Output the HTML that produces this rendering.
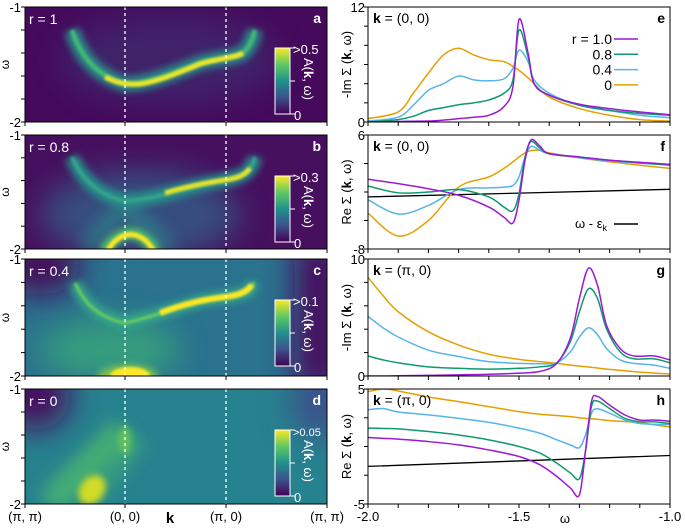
<!DOCTYPE html>
<html><head><meta charset="utf-8"><style>
html,body{margin:0;padding:0;background:#fff;}
svg{display:block;font-family:"Liberation Sans",sans-serif;}
</style></head><body>
<svg id="fig" width="685" height="530" viewBox="0 0 685 530" xmlns="http://www.w3.org/2000/svg">
<defs>
<filter id="b1" filterUnits="userSpaceOnUse" x="0" y="0" width="685" height="530"><feGaussianBlur stdDeviation="1.3"/></filter>
<filter id="b3" filterUnits="userSpaceOnUse" x="0" y="0" width="685" height="530"><feGaussianBlur stdDeviation="3.5"/></filter>
<filter id="b8" filterUnits="userSpaceOnUse" x="0" y="0" width="685" height="530"><feGaussianBlur stdDeviation="8"/></filter>
<filter id="b15" filterUnits="userSpaceOnUse" x="0" y="0" width="685" height="530"><feGaussianBlur stdDeviation="15"/></filter>
<linearGradient id="vir" x1="0" y1="1" x2="0" y2="0">
<stop offset="0" stop-color="#440154"/><stop offset="0.25" stop-color="#3b528b"/><stop offset="0.5" stop-color="#21908d"/><stop offset="0.75" stop-color="#5dc963"/><stop offset="1" stop-color="#fde725"/></linearGradient>
<clipPath id="ca"><rect x="25" y="7" width="302" height="115"/></clipPath>
<clipPath id="cb"><rect x="25" y="135" width="302" height="114"/></clipPath>
<clipPath id="cc"><rect x="25" y="259" width="302" height="117"/></clipPath>
<clipPath id="cd"><rect x="25" y="389" width="302" height="115"/></clipPath>
</defs>

<!-- Panel a -->
<g clip-path="url(#ca)">
<rect x="25" y="7" width="302" height="115" fill="#450a5c"/>
<ellipse cx="170" cy="60" rx="110" ry="45" fill="#3b3f7a" opacity="0.45" filter="url(#b15)"/>
<path d="M72,30 C80,55 95,75 125,84 C150,84 175,72 200,63 C215,58 235,58 243,53 C250,47 253,38 255,30" fill="none" stroke="#2a8c8a" stroke-width="16" opacity="0.9" filter="url(#b3)"/>
<path d="M72,30 C80,55 95,75 125,84 C150,84 175,72 200,63 C215,58 235,58 243,53 C250,47 253,38 255,30" fill="none" stroke="#3fb873" stroke-width="5" filter="url(#b1)"/>
<path d="M105,77 C115,82 125,85 140,84 C160,81 180,72 200,64 C215,59 235,58 243,53" fill="none" stroke="#f2e52a" stroke-width="5" filter="url(#b1)"/>
</g>
<!-- Panel b -->
<g clip-path="url(#cb)">
<rect x="25" y="135" width="302" height="114" fill="#46105f"/>
<ellipse cx="140" cy="215" rx="100" ry="45" fill="#31688e" opacity="0.7" filter="url(#b15)"/>
<path d="M85,249 L125,205 L170,249" fill="none" stroke="#2a8c8a" stroke-width="16" opacity="0.7" filter="url(#b8)"/>
<path d="M72,157 C82,180 100,196 125,201 C150,200 180,190 205,184 C225,180 240,178 247,172 C252,167 254,162 255,157" fill="none" stroke="#27908a" stroke-width="15" opacity="0.9" filter="url(#b3)"/>
<path d="M72,157 C82,180 100,196 125,201 C150,200 180,190 205,184 C225,180 240,178 247,172 C252,167 254,162 255,157" fill="none" stroke="#35a48a" stroke-width="4" filter="url(#b1)"/>
<path d="M165,193 C185,187 205,183 225,180 C240,178 246,174 250,168" fill="none" stroke="#e8e32a" stroke-width="5" filter="url(#b1)"/>
<path d="M104,252 C112,238 125,232 135,234 C145,237 150,243 156,252" fill="none" stroke="#4fc06a" stroke-width="12" filter="url(#b3)"/>
<path d="M108,250 C115,238 125,233 135,235 C145,238 150,244 154,252" fill="none" stroke="#fde725" stroke-width="5" filter="url(#b1)"/>
</g>
<!-- Panel c -->
<g clip-path="url(#cc)">
<rect x="25" y="259" width="302" height="117" fill="#2a728e"/>
<ellipse cx="40" cy="265" rx="40" ry="30" fill="#44085a" filter="url(#b15)"/>
<rect x="295" y="240" width="50" height="150" fill="#46105f" filter="url(#b15)"/>
<ellipse cx="110" cy="350" rx="70" ry="30" fill="#3bb077" opacity="0.7" filter="url(#b15)"/>
<path d="M75,283 C85,305 100,318 125,323 C150,318 180,306 205,300 C225,297 240,295 247,292 C251,288 253,285 254,282" fill="none" stroke="#35a48a" stroke-width="14" opacity="0.9" filter="url(#b3)"/>
<path d="M75,283 C85,305 100,318 125,323 C150,318 180,306 205,300 C225,297 240,295 247,292 C251,288 253,285 254,282" fill="none" stroke="#6ccd5a" stroke-width="3" filter="url(#b1)"/>
<path d="M160,313 C180,305 205,299 225,297 C240,295 246,292 252,285" fill="none" stroke="#fde725" stroke-width="6" filter="url(#b1)"/>
<ellipse cx="128" cy="377" rx="30" ry="12" fill="#a0da39" opacity="0.7" filter="url(#b3)"/>
<ellipse cx="130" cy="376" rx="20" ry="9" fill="#fde725" filter="url(#b1)"/>
</g>
<!-- Panel d -->
<g clip-path="url(#cd)">
<rect x="25" y="389" width="302" height="115" fill="#26828e"/>
<ellipse cx="35" cy="395" rx="35" ry="35" fill="#46105f" filter="url(#b15)"/>
<ellipse cx="320" cy="400" rx="30" ry="40" fill="#3b528b" filter="url(#b15)"/>
<path d="M50,504 L125,430" stroke="#54c567" stroke-width="30" opacity="0.65" filter="url(#b8)"/>
<path d="M90,504 L140,440" stroke="#48b872" stroke-width="16" opacity="0.5" filter="url(#b8)"/>
<ellipse cx="92" cy="490" rx="12" ry="16" fill="#e2e41f" opacity="0.9" filter="url(#b3)" transform="rotate(35 92 490)"/>
<ellipse cx="125" cy="440" rx="6" ry="14" fill="#7ad151" opacity="0.7" filter="url(#b3)"/>
</g>

<g id="leftStatic"></g>
<g id="rightCharts"></g>

<text x="170" y="523" font-size="15" font-weight="bold" text-anchor="middle">k</text>
<text x="565" y="523" font-size="13" text-anchor="middle">ω</text>
</svg>
<script>
// ===== Right chart data =====
const eOmega = [-2.0,-1.9,-1.85,-1.8,-1.75,-1.7,-1.65,-1.6,-1.55,-1.52,-1.5,-1.47,-1.45,-1.4,-1.3,-1.2,-1.1,-1.0];
const eR10 = [0,0.05,0.08,0.1,0.2,0.35,0.5,0.7,1.6,3.7,10.7,7.2,4.0,2.8,1.85,1.4,1.05,0.75];
const eR08 = [0,0.25,0.6,1.2,1.5,1.8,2.0,2.3,3.0,4.4,9.6,6.8,4.0,2.8,1.75,1.2,0.9,0.7];
const eR04 = [0.1,0.5,1.75,3.3,4.0,4.8,4.4,4.3,4.5,5.6,7.5,6.3,4.4,3.0,1.75,1.2,0.7,0.45];
const eR00 = [0.35,1.05,3.0,5.1,7.0,7.7,7.0,6.5,6.3,5.8,5.4,4.6,4.0,2.6,1.4,0.7,0.25,0.1];

const fOmega = [-2.0,-1.9,-1.8,-1.7,-1.6,-1.55,-1.52,-1.5,-1.48,-1.46,-1.43,-1.4,-1.3,-1.2,-1.0];
const fR10 = [0.56,0.03,-0.6,-1.4,-2.85,-4.1,-4.8,-2.0,2.9,5.4,4.6,3.7,3.3,2.9,2.4];
const fR08 = [-0.26,-1.1,-1.0,-0.7,-1.6,-2.85,-3.3,-1.2,3.3,5.2,4.35,3.7,3.3,2.9,2.3];
const fR04 = [-1.95,-3.7,-2.65,-0.7,-0.5,-0.4,-0.2,0.85,3.3,4.6,4.1,3.7,3.2,2.8,2.3];
const fR00 = [-3.6,-6.4,-4.5,-0.4,0.85,1.9,2.7,3.3,3.8,4.1,4.1,3.8,3.2,2.7,1.9];
const fLineOmega = [-2.0,-1.0];
const fLine = [-1.6,-0.67];

const gOmega = [-2.0,-1.95,-1.9,-1.8,-1.7,-1.6,-1.5,-1.43,-1.375,-1.33,-1.3,-1.27,-1.24,-1.21,-1.165,-1.12,-1.055,-1.0];
const gR10 = [0,0,0.02,0.05,0.1,0.15,0.25,0.4,1.1,3.3,6.75,9.4,7.9,4.4,2.4,1.75,1.75,1.4];
const gR08 = [1.75,1.4,1.15,0.8,0.67,0.6,0.67,0.8,1.15,3.0,5.6,7.6,6.75,4.1,2.1,1.5,1.5,1.15];
const gR04 = [5.2,4.2,3.4,2.25,1.7,1.25,1.1,1.07,1.15,2.1,3.4,4.2,3.6,2.4,1.4,1.1,0.95,0.67];
const gR00 = [8.6,7.0,5.6,3.85,2.7,1.9,1.45,1.25,1.1,0.95,0.87,0.78,0.7,0.6,0.5,0.38,0.26,0.17];

const hOmega = [-2.0,-1.95,-1.9,-1.8,-1.7,-1.6,-1.5,-1.43,-1.375,-1.33,-1.3,-1.28,-1.26,-1.24,-1.2,-1.15,-1.1,-1.055,-1.0];
const hR10 = [0.78,0.71,0.64,0.43,0.14,-0.3,-0.87,-1.6,-2.6,-3.6,-4.2,-0.43,3.9,4.35,3.6,2.75,2.3,2.3,2.2];
const hR08 = [1.6,1.57,1.53,1.3,1.0,0.58,0,-0.58,-1.45,-2.3,-2.8,-0.43,3.47,3.95,3.3,2.45,2.15,2.15,2.0];
const hR04 = [3.2,3.3,3.0,2.75,2.45,2.1,1.6,1.15,0.58,0.14,-0.1,1.0,2.9,3.27,2.9,2.3,2.0,1.94,1.9];
const hR00 = [4.77,5.0,4.83,4.3,3.9,3.47,3.03,2.8,2.7,2.6,2.5,2.45,2.4,2.37,2.25,2.17,2.05,1.9,1.7];
const hLineOmega = [-2.0,-1.0];
const hLine = [-1.73,-0.78];

const xTicks = [-2.0,-1.5,-1.0];
const xTickLabels = ["-2.0","-1.5","-1.0"];
const seriesNames = ["r = 1.0","0.8","0.4","0"];
const colors = ["#9b19d6","#0e9a6c","#56b4e9","#e69f00"];

const NS = "http://www.w3.org/2000/svg";
const svg = document.getElementById('fig');
function mk(tag, attrs, parent, text){
  const el = document.createElementNS(NS, tag);
  for (const k in attrs) el.setAttribute(k, attrs[k]);
  if (text !== undefined) el.textContent = text;
  (parent||svg).appendChild(el);
  return el;
}
const X0=368, X1=670;
function xScale(w){ return X0 + (w + 2) * (X1 - X0); }
function smoothPath(pts){
  let d = "M" + pts[0][0].toFixed(2) + "," + pts[0][1].toFixed(2);
  for (let i=0;i<pts.length-1;i++){
    const p0=pts[Math.max(i-1,0)], p1=pts[i], p2=pts[i+1], p3=pts[Math.min(i+2,pts.length-1)];
    const c1=[p1[0]+(p2[0]-p0[0])/6, p1[1]+(p2[1]-p0[1])/6];
    const c2=[p2[0]-(p3[0]-p1[0])/6, p2[1]-(p3[1]-p1[1])/6];
    d += " C"+c1[0].toFixed(2)+","+c1[1].toFixed(2)+" "+c2[0].toFixed(2)+","+c2[1].toFixed(2)+" "+p2[0].toFixed(2)+","+p2[1].toFixed(2);
  }
  return d;
}
const rc = document.getElementById('rightCharts');
const panels = [
  {id:'e', top:7, bot:122, ymin:0, ymax:12, nt:6, lab:['12','0'], title:'-Im Σ (', k:'k = (0, 0)', om:eOmega, ser:[eR10,eR08,eR04,eR00]},
  {id:'f', top:135, bot:249, ymin:-8, ymax:6, nt:4, lab:['6','-8'], title:'Re Σ (', k:'k = (0, 0)', om:fOmega, ser:[fR10,fR08,fR04,fR00], line:[fLineOmega,fLine]},
  {id:'g', top:259, bot:376, ymin:0, ymax:10.2, nt:5, lab:['10','0'], title:'-Im Σ (', k:'k = (π, 0)', om:gOmega, ser:[gR10,gR08,gR04,gR00]},
  {id:'h', top:389, bot:504, ymin:-5, ymax:5, nt:4, lab:['5','-5'], title:'Re Σ (', k:'k = (π, 0)', om:hOmega, ser:[hR10,hR08,hR04,hR00], line:[hLineOmega,hLine]}
];
panels.forEach(p=>{
  const g = mk('g',{},rc);
  
  
  const y = v => p.bot - (v - p.ymin)/(p.ymax - p.ymin)*(p.bot - p.top);
  const cp = mk('clipPath',{id:'clip'+p.id},g);
  mk('rect',{x:X0,y:p.top,width:X1-X0,height:p.bot-p.top},cp);
  const plot = mk('g',{'clip-path':'url(#clip'+p.id+')'},g);
  if (p.line){
    const ln = mk('path',{d:smoothPath(p.line[0].map((w,i)=>[xScale(w),y(p.line[1][i])])),fill:'none',stroke:'#000','stroke-width':1.3},plot);
    
    
  }
  for (let s=p.ser.length-1;s>=0;s--){
    const pts = p.om.map((w,i)=>[xScale(w), y(p.ser[s][i])]);
    const path = mk('path',{d:smoothPath(pts),fill:'none',stroke:colors[s],'stroke-width':1.5},plot);
    
    
  }
  mk('rect',{x:X0,y:p.top,width:X1-X0,height:p.bot-p.top,fill:'none',stroke:'#000','stroke-width':1},g);
  for (let i=0;i<=10;i++){ const xx=X0+i*(X1-X0)/10; mk('line',{x1:xx,x2:xx,y1:p.bot,y2:p.bot+4,stroke:'#000'},g); }
  for (let i=0;i<=p.nt;i++){ const yy=p.top+i*(p.bot-p.top)/p.nt; mk('line',{x1:X0-4,x2:X0,y1:yy,y2:yy,stroke:'#000'},g); }
  const t1=mk('text',{x:X0-3,y:p.top+5,'font-size':13,'text-anchor':'end'},g,p.lab[0]);
   
  const t2=mk('text',{x:X0-3,y:p.bot+5,'font-size':13,'text-anchor':'end'},g,p.lab[1]);
   
  const cy=(p.top+p.bot)/2;
  const yt=mk('text',{transform:'translate(351,'+cy+') rotate(-90)','font-size':13,'text-anchor':'middle'},g);
   
  mk('tspan',{},yt,p.title); mk('tspan',{'font-weight':'bold'},yt,'k'); mk('tspan',{},yt,', ω)');
  const kl=mk('text',{x:373,y:p.top+16,'font-size':14},g);
   
  mk('tspan',{'font-weight':'bold'},kl,'k'); mk('tspan',{},kl,p.k.slice(1));
  const pl=mk('text',{x:665,y:p.top+16,'font-size':14,'font-weight':'bold','text-anchor':'end'},g,p.id);
   
});
xTicks.forEach((w,i)=>{
  const t=mk('text',{x:xScale(w),y:521,'font-size':13,'text-anchor':'middle'},rc,xTickLabels[i]);
   
});
seriesNames.forEach((n,i)=>{
  const yy=39+i*15.3;
  const l=mk('line',{x1:614,x2:638,y1:yy,y2:yy,stroke:colors[i],'stroke-width':1.5},rc);
   
  const t=mk('text',{x:612,y:yy+5,'font-size':14,'text-anchor':'end'},rc,n);
   
});
const ll=mk('line',{x1:614,x2:638,y1:224,y2:224,stroke:'#000','stroke-width':1.5},rc);
 
const lt=mk('text',{x:575,y:228,'font-size':13},rc);
 
mk('tspan',{},lt,'ω - ε'); mk('tspan',{'font-size':9,dy:3},lt,'k');

// ===== Left panels static =====
const ls = document.getElementById('leftStatic');
const kTicks=[25,125,226,327];
const kLabels=["(π, π)","(0, 0)","(π, 0)","(π, π)"];
const lp=[{id:'a',top:7,bot:122,r:'r = 1',cb:'>0.5'},{id:'b',top:135,bot:249,r:'r = 0.8',cb:'>0.3'},{id:'c',top:259,bot:376,r:'r = 0.4',cb:'>0.1'},{id:'d',top:389,bot:504,r:'r = 0',cb:'>0.05'}];
lp.forEach(p=>{
  const g=mk('g',{},ls);
   
  [125,226].forEach(x=>mk('line',{x1:x,x2:x,y1:p.top,y2:p.bot,stroke:'#fff','stroke-width':1.3,'stroke-dasharray':'3,3'},g));
  mk('rect',{x:25,y:p.top,width:302,height:p.bot-p.top,fill:'none',stroke:'#000'},g);
  kTicks.forEach(x=>mk('line',{x1:x,x2:x,y1:p.bot,y2:p.bot+4,stroke:'#000'},g));
  for(let i=0;i<=5;i++){const yy=p.top+i*(p.bot-p.top)/5; mk('line',{x1:21,x2:25,y1:yy,y2:yy,stroke:'#000'},g);}
  mk('text',{x:21,y:p.top+5,'font-size':13,'text-anchor':'end'},g,'-1');
  mk('text',{x:21,y:p.bot+5,'font-size':13,'text-anchor':'end'},g,'-2');
  mk('text',{transform:'translate(9,'+((p.top+p.bot)/2)+') rotate(-90)','font-size':12,'text-anchor':'middle'},g,'ω');
  const rt=mk('text',{x:29,y:p.top+17,'font-size':14,fill:'#fff'},g,p.r);
   
  mk('text',{x:321,y:p.top+16,'font-size':14,'font-weight':'bold',fill:'#fff','text-anchor':'end'},g,p.id);
  const cbTop=p.top+41, cbBot=p.top+107;
  const cb=mk('rect',{x:275,y:cbTop,width:15,height:cbBot-cbTop,fill:'url(#vir)',stroke:'#fff','stroke-width':1},g);
   
  [cbTop,(cbTop+cbBot)/2,cbBot].forEach(yy=>mk('line',{x1:290,x2:295,y1:yy,y2:yy,stroke:'#fff'},g));
  mk('text',{x:293,y:cbTop+6,'font-size':p.cb.length>4?11:13,fill:'#fff'},g,p.cb);
  mk('text',{x:294,y:cbBot+6,'font-size':13,fill:'#fff'},g,'0');
  const at=mk('text',{transform:'translate(304,'+(cbTop+10)+') rotate(90)','font-size':13,fill:'#fff'},g);
  mk('tspan',{},at,'A('); mk('tspan',{'font-weight':'bold'},at,'k'); mk('tspan',{},at,', ω)');
});
kTicks.forEach((x,i)=>{
  const t=mk('text',{x:x,y:521,'font-size':13,'text-anchor':'middle'},ls,kLabels[i]);
   
});
</script>
</body></html>
